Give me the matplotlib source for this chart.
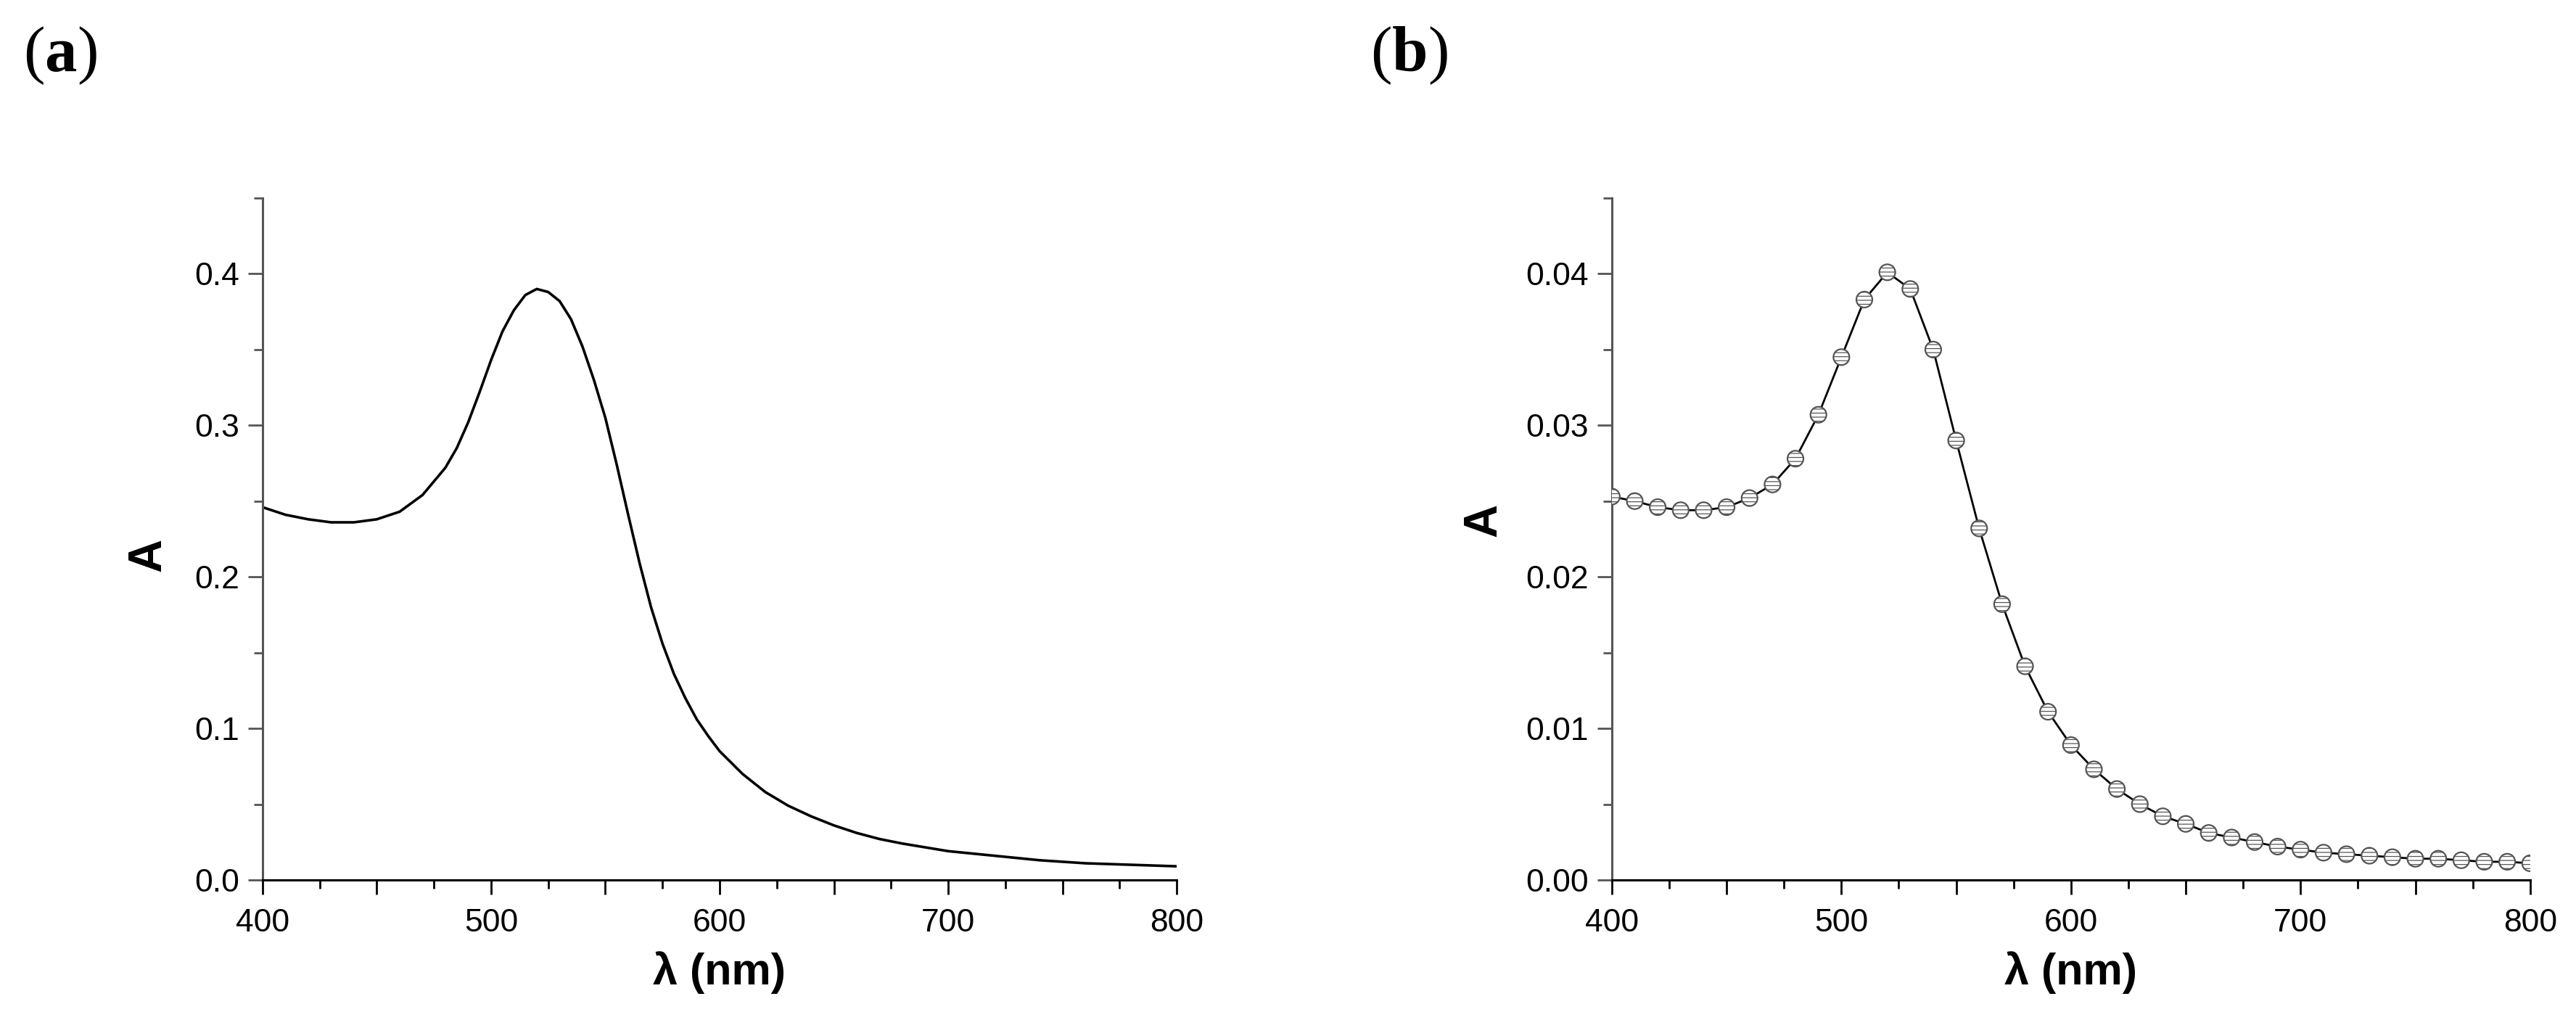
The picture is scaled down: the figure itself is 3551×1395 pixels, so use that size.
import matplotlib
matplotlib.use('Agg')
import matplotlib.pyplot as plt
from matplotlib.ticker import MultipleLocator, FuncFormatter

plt.rcParams['font.family'] = ['Liberation Sans', 'DejaVu Sans']
plt.rcParams['mathtext.fontset'] = 'custom'
plt.rcParams['mathtext.rm'] = 'Liberation Serif'
plt.rcParams['mathtext.bf'] = 'Liberation Serif:bold'
plt.rcParams['hatch.linewidth'] = 0.9

# panel (a): continuous spectrum
wl_a = [400, 410, 420, 430, 440, 450, 460, 470, 480, 485, 490, 495, 500, 505,
        510, 515, 520, 525, 530, 535, 540, 545, 550, 555, 560, 565, 570, 575,
        580, 585, 590, 595, 600, 610, 620, 630, 640, 650, 660, 670, 680, 700,
        720, 740, 760, 780, 800]
abs_a = [0.246, 0.241, 0.238, 0.236, 0.236, 0.238, 0.243, 0.254, 0.272, 0.285,
         0.302, 0.322, 0.343, 0.362, 0.376, 0.386, 0.390, 0.388, 0.382, 0.370,
         0.352, 0.330, 0.305, 0.274, 0.241, 0.209, 0.180, 0.156, 0.136, 0.120,
         0.106, 0.095, 0.085, 0.070, 0.058, 0.049, 0.042, 0.036, 0.031, 0.027,
         0.024, 0.019, 0.016, 0.013, 0.011, 0.010, 0.009]

# panel (b): measured every 10 nm
wl_b = list(range(400, 801, 10))
abs_b = [0.0253, 0.0250, 0.0246, 0.0244, 0.0244, 0.0246, 0.0252, 0.0261,
         0.0278, 0.0307, 0.0345, 0.0383, 0.0401, 0.0390, 0.0350, 0.0290,
         0.0232, 0.0182, 0.0141, 0.0111, 0.0089, 0.0073, 0.0060, 0.0050,
         0.0042, 0.0037, 0.0031, 0.0028, 0.0025, 0.0022, 0.0020, 0.0018,
         0.0017, 0.0016, 0.0015, 0.0014, 0.0014, 0.0013, 0.0012, 0.0012,
         0.0011]

fig = plt.figure(figsize=(35.51, 13.95), dpi=100)
ax1 = fig.add_axes([0.1019, 0.1305, 0.3549, 0.6738])
ax2 = fig.add_axes([0.6257, 0.1305, 0.3565, 0.6738])


def style(ax, ymax, ystep, yfmt):
    ax.set_xlim(400, 800)
    ax.set_ylim(0, ymax)
    for s in ['top', 'right']:
        ax.spines[s].set_visible(False)
    ax.spines['left'].set_color('#555555')
    ax.spines['left'].set_linewidth(2.2)
    ax.spines['bottom'].set_color('black')
    ax.spines['bottom'].set_linewidth(2.2)
    ax.xaxis.set_major_locator(MultipleLocator(50))
    ax.xaxis.set_minor_locator(MultipleLocator(25))
    ax.xaxis.set_major_formatter(FuncFormatter(
        lambda v, p: '%d' % v if round(v) % 100 == 0 else ''))
    ax.yaxis.set_major_locator(MultipleLocator(ystep))
    ax.yaxis.set_minor_locator(MultipleLocator(ystep / 2))
    ax.yaxis.set_major_formatter(FuncFormatter(lambda v, p: yfmt % v))
    ax.tick_params(axis='both', which='major', direction='out', length=14.4,
                   width=2.0, labelsize=32)
    ax.tick_params(axis='both', which='minor', direction='out', length=8.6,
                   width=2.0)
    ax.tick_params(axis='x', which='major', pad=14)
    ax.tick_params(axis='y', which='major', pad=8.6)
    ax.tick_params(axis='y', which='both', color='#555555')
    ax.set_xlabel('λ (nm)', fontsize=44, fontweight='bold', va='top')
    ax.xaxis.set_label_coords(0.5, -0.105)
    ax.set_ylabel('A', fontsize=46, fontweight='bold')


style(ax1, 0.45, 0.1, '%.1f')
style(ax2, 0.045, 0.01, '%.2f')
ax1.yaxis.set_label_coords(-0.1246, 0.4766)
ax2.yaxis.set_label_coords(-0.139, 0.528)
for ax in (ax1, ax2):
    ax.yaxis.label.set_verticalalignment('center')

ax1.plot(wl_a, abs_a, color='black', lw=2.6, solid_joinstyle='round')

ax2.plot(wl_b, abs_b, color='black', lw=2.0, zorder=2)
ax2.scatter(wl_b, abs_b, s=250, facecolors='white', edgecolors='#555555',
            linewidths=1.6, hatch='---', zorder=3)

fig.text(0.009, 0.93, r'$(\mathbf{a})$', fontsize=64, va='baseline')
fig.text(0.532, 0.93, r'$(\mathbf{b})$', fontsize=64, va='baseline')

fig.savefig('out.png', dpi=100, facecolor='white')
